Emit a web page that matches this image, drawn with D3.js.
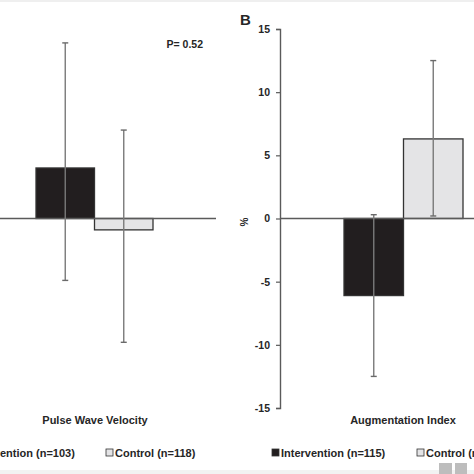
<!DOCTYPE html>
<html><head><meta charset="utf-8">
<script src="https://cdn.jsdelivr.net/npm/d3@7"></script>
<style>body{margin:0;background:#fff}svg{display:block}text{font-family:Arial,"Liberation Sans",sans-serif;font-weight:bold;fill:#262626}</style>
</head><body>
<script>
const groups = ["Intervention", "Control"];
// Panel A: Pulse Wave Velocity (axis cropped out of picture)
const pwvMean = [0.40, -0.09];
const pwvLow = [-0.49, -0.98];
const pwvHigh = [1.39, 0.70];
// Panel B: Augmentation Index (%)
const aixMean = [-6.1, 6.3];
const aixLow = [-12.5, 0.2];
const aixHigh = [0.3, 12.5];
const aixTicks = [-15, -10, -5, 0, 5, 10, 15];
const legendA = ["Intervention (n=103)", "Control (n=118)"];
const legendB = ["Intervention (n=115)", "Control (n=118)"];

const W = 474, H = 474;
const svg = d3.select("body").append("svg").attr("width", W).attr("height", H);

svg.append("rect").attr("x",0).attr("y",0).attr("width",W).attr("height",2).attr("fill","#efefef");
svg.append("rect").attr("x",0).attr("y",470).attr("width",W).attr("height",4).attr("fill","#f2f2f2");

const fills = ["#221e1f", "#e4e4e6"];

function panel(opt) {
  const y = d3.scaleLinear().domain(opt.domain).range([408, 29]);
  const x = d3.scaleBand().domain(groups).range(opt.barRange).padding(0);
  const g = svg.append("g");
  g.selectAll("rect.bar").data(groups).join("rect")
    .attr("x", d => x(d))
    .attr("width", x.bandwidth())
    .attr("y", (d,i) => y(Math.max(0, opt.mean[i])))
    .attr("height", (d,i) => Math.abs(y(opt.mean[i]) - y(0)))
    .attr("fill", (d,i) => fills[i])
    .attr("stroke", "#333").attr("stroke-width", 1.3);
  g.append("line").attr("x1", opt.zeroRange[0]).attr("x2", opt.zeroRange[1])
    .attr("y1", y(0)).attr("y2", y(0)).attr("stroke", "#5a5a5a").attr("stroke-width", 1.4);
  groups.forEach((d,i) => {
    const cx = x(d) + x.bandwidth()/2;
    g.append("line").attr("x1", cx).attr("x2", cx).attr("y1", y(opt.low[i])).attr("y2", y(opt.high[i]))
      .attr("stroke", "#7a7a7a").attr("stroke-width", 1.4);
    [opt.low[i], opt.high[i]].forEach(v => {
      g.append("line").attr("x1", cx-3).attr("x2", cx+3).attr("y1", y(v)).attr("y2", y(v))
        .attr("stroke", "#6a6a6a").attr("stroke-width", 1.4);
    });
  });
  if (opt.axisX !== undefined) {
    const ax = g.append("g").attr("transform", `translate(${opt.axisX},0)`)
      .call(d3.axisLeft(y).tickValues(opt.ticks).tickSize(4).tickPadding(6).tickFormat(d => String(d)));
    ax.select(".domain").attr("stroke", "#5a5a5a").attr("stroke-width", 1.4);
    ax.selectAll(".tick line").attr("stroke", "#5a5a5a").attr("stroke-width", 1.2);
    ax.selectAll(".tick text").attr("font-size", 10.5).attr("font-family", "Arial, 'Liberation Sans', sans-serif").attr("font-weight", "bold").attr("fill", "#262626");
  }
  g.append("text").attr("x", opt.titleX).attr("y", 424).attr("text-anchor", "middle")
    .attr("font-size", 11).text(opt.title);
  opt.legend.forEach((t,i) => {
    const lx = opt.legendX + i*145;
    g.append("rect").attr("x", lx).attr("y", 449).attr("width", 7).attr("height", 7)
      .attr("fill", fills[i]).attr("stroke", "#333").attr("stroke-width", 0.8);
    g.append("text").attr("x", lx + 9).attr("y", 457).attr("font-size", 11).text(t);
  });
  return y;
}

panel({domain:[-1.5,1.5], mean:pwvMean, low:pwvLow, high:pwvHigh, barRange:[36,153], zeroRange:[0,216],
  title:"Pulse Wave Velocity", titleX:95, legend:legendA, legendX:-39});
panel({domain:[-15,15], mean:aixMean, low:aixLow, high:aixHigh, barRange:[344,463], zeroRange:[280,474],
  axisX:280, ticks:aixTicks, title:"Augmentation Index", titleX:403, legend:legendB, legendX:272});

svg.append("text").attr("x", 203).attr("y", 48).attr("text-anchor", "end").attr("font-size", 10.5).text("P= 0.52");
svg.append("text").attr("x", 240).attr("y", 25).attr("font-size", 15).text("B");
svg.append("text").attr("transform", "translate(248,222) rotate(-90)").attr("text-anchor", "middle").attr("font-size", 10).text("%");

svg.append("rect").attr("x",439).attr("y",463).attr("width",13).attr("height",11).attr("fill","#bdbdbd");
svg.append("rect").attr("x",455).attr("y",463).attr("width",12).attr("height",11).attr("fill","#bdbdbd");
</script>
</body></html>
